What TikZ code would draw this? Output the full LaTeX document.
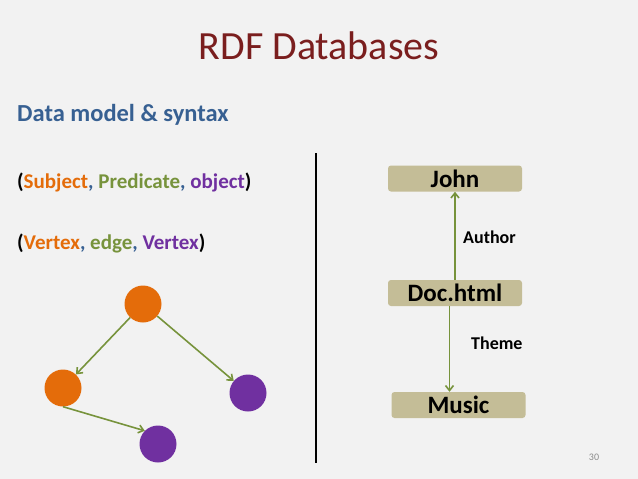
\documentclass[tikz,border=0pt]{standalone}
\usepackage{fontspec}
\setmainfont{Carlito}
\usetikzlibrary{arrows.meta}
\definecolor{titlered}{HTML}{7A1E1E}
\definecolor{headblue}{HTML}{376092}
\definecolor{subjorange}{HTML}{E46C0A}
\definecolor{predgreen}{HTML}{77933C}
\definecolor{objpurple}{HTML}{7030A0}
\definecolor{boxtan}{HTML}{C4BD97}
\definecolor{slidegray}{HTML}{F2F2F2}
\tikzset{
	resbox/.style={rectangle, rounded corners=3pt, fill=boxtan, minimum width=134pt, minimum height=26pt, inner sep=0pt, font=\fontsize{25}{29}\selectfont\bfseries},
	vertex/.style={circle, minimum size=37pt, inner sep=0pt},
	link/.style={draw=predgreen, line width=1.6pt, -{Straight Barb[length=5pt,width=8pt]}},
	linklabel/.style={font=\fontsize{18}{21}\selectfont\bfseries, anchor=west, inner sep=0pt},
	tripletext/.style={font=\fontsize{21}{25}\selectfont\bfseries, anchor=west, inner sep=0pt}
}
\begin{document}
\begin{tikzpicture}[x=1pt, y=-1pt]
			%%%%% START %%%%%
			
			\fill[slidegray] (0, 0) rectangle (638, 479);
			\useasboundingbox (0, 0) rectangle (638, 479);
			
			\node[text=titlered, font=\fontsize{40}{48}\selectfont] (title) at (319, 46) {RDF Databases};
			\node[text=headblue, font=\fontsize{24.5}{29}\selectfont\bfseries, anchor=west, inner sep=0pt] (head) at (17, 115) {Data model \& syntax};
			
			\node[tripletext] (triple) at (17, 182) {(\textcolor{subjorange}{Subject}\textcolor{headblue}{,} \textcolor{predgreen}{Predicate}\textcolor{headblue}{,} \textcolor{objpurple}{object})};
			\node[tripletext] (graph) at (17, 243) {(\textcolor{subjorange}{Vertex}\textcolor{headblue}{,} \textcolor{predgreen}{edge}\textcolor{headblue}{,} \textcolor{objpurple}{Vertex})};
			
			\coordinate (sepTop) at (316, 153);
			\coordinate (sepBot) at (316, 463);
			\draw[line width=1.6pt] (sepTop) -- (sepBot);
			
			% graph of vertices
			\node[vertex, fill=subjorange] (vTop) at (143, 304) {};
			\node[vertex, fill=subjorange] (vLeft) at (63, 388) {};
			\node[vertex, fill=objpurple] (vRight) at (248, 393) {};
			\node[vertex, fill=objpurple] (vBot) at (158, 444) {};
			
			\draw[link] (vTop) -- (vLeft);
			\draw[link] (vTop) -- (vRight);
			\draw[link] (vLeft.south) -- (vBot.135);
			
			% resources
			\node[resbox] (john) at (455, 178.5) {John};
			\node[resbox] (doc) at (455, 293) {Doc.html};
			\node[resbox] (music) at (458.5, 405) {Music};
			
			\draw[link] (doc.north) -- (doc.north |- john.south);
			\draw[link] ([xshift=-5.5pt]doc.south) -- ([xshift=-5.5pt]doc.south |- music.north);
			
			\node[linklabel] (author) at (463, 237) {Author};
			\node[linklabel] (theme) at (471, 343) {Theme};
			
			\node[text=black!45, font=\fontsize{10}{12}\selectfont] (pagenum) at (594, 457) {30};
			
			%%%%% END %%%%%
\end{tikzpicture}
\end{document}
